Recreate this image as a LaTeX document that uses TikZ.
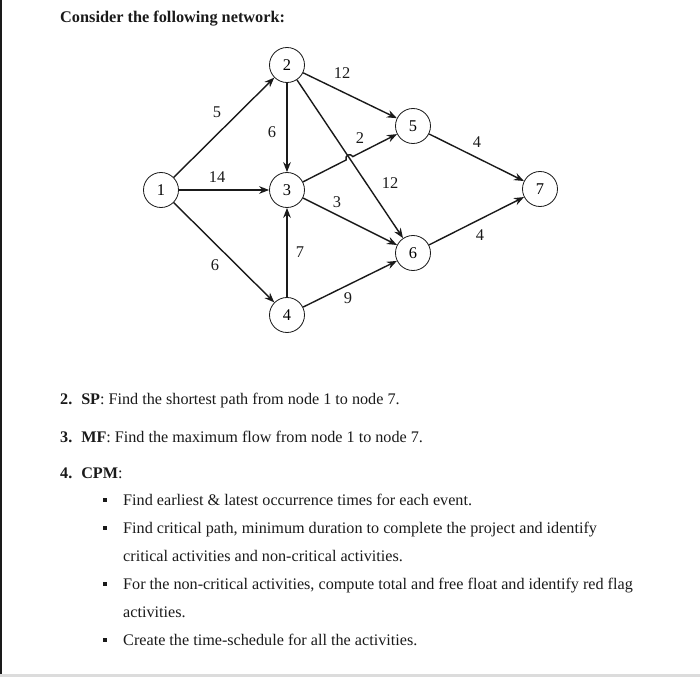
\documentclass[tikz,border=0pt]{standalone}
\usepackage{fontspec}
\setmainfont{Liberation Serif}
\usetikzlibrary{arrows.meta,calc}
\definecolor{ink}{HTML}{1A1A1A}
\definecolor{rule}{HTML}{DCDCDC}
\tikzset{
  event/.style={circle, draw=ink, line width=0.7pt, minimum size=1.05cm,
                inner sep=0pt, font=\fontsize{14}{16}\selectfont},
  activity/.style={-{Stealth[length=3mm,width=2.3mm]}, line width=1.2pt, draw=ink},
  weight/.style={font=\fontsize{14}{16}\selectfont, text=ink, inner sep=0pt},
  textline/.style={anchor=base west, font=\fontsize{13.8}{16}\selectfont,
                   text=ink, inner sep=0pt},
  bullet/.style={fill=ink, minimum size=1.4mm, inner sep=0pt}
}

\begin{document}
\begin{tikzpicture}[x=0.03cm,y=-0.03cm]
  \useasboundingbox (0,0) rectangle (700,677);
  \fill[ink] (0,0) rectangle (2,677);
  \fill[rule] (0,674) rectangle (700,677);

  \node[textline,font=\bfseries\fontsize{13.9}{16}\selectfont] (title) at (60,23)
    {Consider the following network:};

  \node[event] (n1) at (161,190) {1};
  \node[event] (n2) at (287,65) {2};
  \node[event] (n3) at (287,190) {3};
  \node[event] (n4) at (287,315) {4};
  \node[event] (n5) at (413,126) {5};
  \node[event] (n6) at (413,253) {6};
  \node[event] (n7) at (540,189) {7};

  \draw[activity] (n1) -- (n2);
  \draw[activity] (n1) -- (n3);
  \draw[activity] (n1) -- (n4);
  \draw[activity] (n2) -- (n3);
  \draw[activity] (n2) -- (n5);
  \draw[activity] (n2) -- (n6);
  \draw[activity] (n3) -- ($(n3)!0.470!(n5)$)
    arc[start angle=206.9,end angle=26.9,radius=1.1mm] -- (n5);
  \draw[activity] (n3) -- (n6);
  \draw[activity] (n4) -- (n3);
  \draw[activity] (n4) -- (n6);
  \draw[activity] (n5) -- (n7);
  \draw[activity] (n6) -- (n7);

  \node[weight] (w12) at (217,112) {5};
  \node[weight] (w25) at (342,73) {12};
  \node[weight] (w23) at (272,132) {6};
  \node[weight] (w35) at (360,138) {2};
  \node[weight] (w13) at (217,177) {14};
  \node[weight] (w26) at (390,183) {12};
  \node[weight] (w36) at (337,202) {3};
  \node[weight] (w43) at (300,252) {7};
  \node[weight] (w14) at (215,265) {6};
  \node[weight] (w46) at (348,298) {9};
  \node[weight] (w57) at (477,142) {4};
  \node[weight] (w67) at (480,235) {4};

  \node[textline] (sp) at (60,404)
    {\textbf{2.}\hspace{0.55em}\textbf{SP}: Find the shortest path from node 1 to node 7.};
  \node[textline] (mf) at (60,442)
    {\textbf{3.}\hspace{0.55em}\textbf{MF}: Find the maximum flow from node 1 to node 7.};
  \node[textline] (cpm) at (60,478)
    {\textbf{4.}\hspace{0.55em}\textbf{CPM}:};

  \node[bullet] (b1) at (105,500) {};
  \node[textline] (c1) at (123,505)
    {Find earliest \& latest occurrence times for each event.};
  \node[bullet] (b2) at (105,528) {};
  \node[textline] (c2) at (123,533)
    {Find critical path, minimum duration to complete the project and identify};
  \node[textline] (c2b) at (123,561)
    {critical activities and non-critical activities.};
  \node[bullet] (b3) at (105,584) {};
  \node[textline] (c3) at (123,589)
    {For the non-critical activities, compute total and free float and identify red flag};
  \node[textline] (c3b) at (123,617) {activities.};
  \node[bullet] (b4) at (105,640) {};
  \node[textline] (c4) at (123,645)
    {Create the time-schedule for all the activities.};
\end{tikzpicture}
\end{document}
